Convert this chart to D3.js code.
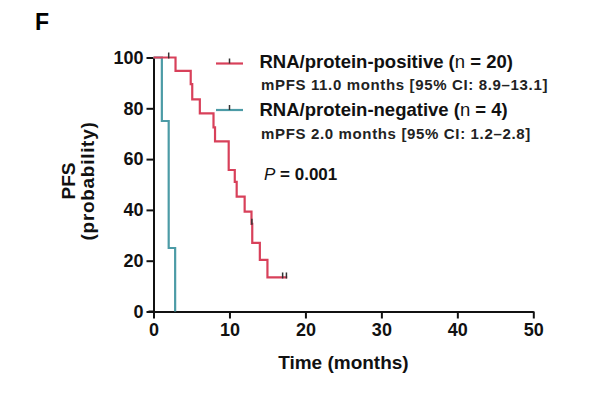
<!DOCTYPE html>
<html>
<head>
<meta charset="utf-8">
<script src="https://cdn.jsdelivr.net/npm/d3@7"></script>
<style>
  html, body { margin: 0; padding: 0; background: #fff; }
  svg { display: block; font-family: "Liberation Sans", Arial, Helvetica, sans-serif; }
</style>
</head>
<body>
<svg id="chart" width="600" height="394"></svg>
<script>
// ---- data ----
const posTimes = [0, 2.9, 4.9, 5.1, 6.1, 7.9, 8.1, 9.9, 10.7, 10.95, 12.0, 12.9, 13.0, 14.0, 15.0, 17.6];
const posSurv  = [100, 94.7, 89.5, 83.5, 78.0, 72.5, 67.0, 55.7, 51.0, 45.2, 39.3, 34.5, 27.0, 20.3, 13.4, 13.4];
const posCensor = [2.0, 12.95, 17.0, 17.5];

const negTimes = [0, 1.1, 2.0, 2.85];
const negSurv  = [100, 75, 25, 0];
const negCensor = [];

const xTicks = [0, 10, 20, 30, 40, 50];
const yTicks = [0, 20, 40, 60, 80, 100];

const seriesNames = ["RNA/protein-positive", "RNA/protein-negative"];
const seriesN = ["20", "4"];
const mpfsLabels = ["mPFS 11.0 months [95% CI: 8.9\u201313.1]", "mPFS 2.0 months [95% CI: 1.2\u20132.8]"];
const pLabel = "= 0.001";

const colors = ["#d8405a", "#4c9ba6"];

// ---- layout ----
const svg = d3.select("#chart");
const x = d3.scaleLinear().domain([0, 50]).range([153.5, 533.3]);
const y = d3.scaleLinear().domain([0, 100]).range([311.5, 57.5]);

// panel letter
svg.append("text").attr("x", 35).attr("y", 30)
  .attr("font-size", 23).attr("font-weight", "bold").text("F");

// axes
const xAxis = svg.append("g").attr("transform", `translate(0,${y(0)})`)
  .call(d3.axisBottom(x).tickValues(xTicks).tickSize(7).tickSizeOuter(0).tickPadding(5));
const yAxis = svg.append("g").attr("transform", `translate(${x(0)},0)`)
  .call(d3.axisLeft(y).tickValues(yTicks).tickSize(7).tickSizeOuter(0).tickPadding(3));
[xAxis, yAxis].forEach(a => {
  a.selectAll("path.domain").attr("stroke", "#111").attr("stroke-width", 2);
  a.selectAll(".tick line").attr("stroke", "#111").attr("stroke-width", 2);
  a.selectAll(".tick text").attr("fill", "#111").attr("font-size", 18)
    .attr("font-weight", "bold").attr("font-family", "Liberation Sans, Arial, sans-serif");
});
// small extension of the x axis left of the y axis (the "+" at origin)
svg.append("line").attr("x1", x(0) - 5).attr("x2", x(0)).attr("y1", y(0)).attr("y2", y(0))
  .attr("stroke", "#111").attr("stroke-width", 2);

// axis titles
svg.append("text").attr("x", x(25)).attr("y", 369).attr("text-anchor", "middle")
  .attr("font-size", 19).attr("font-weight", "bold").attr("fill", "#111").text("Time (months)");
const yt = svg.append("g").attr("transform", "translate(0,181) rotate(-90)");
yt.append("text").attr("x", 0).attr("y", 75).attr("text-anchor", "middle")
  .attr("font-size", 19).attr("font-weight", "bold").attr("fill", "#111").text("PFS");
yt.append("text").attr("x", 0).attr("y", 94).attr("text-anchor", "middle")
  .attr("font-size", 19).attr("font-weight", "bold").attr("letter-spacing", 0.7)
  .attr("fill", "#111").text("(probability)");

// curves
const line = d3.line().x(d => x(d[0])).y(d => y(d[1])).curve(d3.curveStepAfter);
function survAt(times, surv, t) {
  let s = surv[0];
  for (let i = 0; i < times.length; i++) if (times[i] <= t) s = surv[i];
  return s;
}
const series = [
  { times: negTimes, surv: negSurv, censor: negCensor, color: colors[1] },
  { times: posTimes, surv: posSurv, censor: posCensor, color: colors[0] }
];
series.forEach(s => {
  svg.append("path").datum(s.times.map((t, i) => [t, s.surv[i]]))
    .attr("d", line).attr("fill", "none").attr("stroke", s.color).attr("stroke-width", 2.2);
  svg.selectAll(null).data(s.censor).enter().append("line")
    .attr("x1", d => x(d)).attr("x2", d => x(d))
    .attr("y1", d => y(survAt(s.times, s.surv, d)) - 5)
    .attr("y2", d => y(survAt(s.times, s.surv, d)) + 1)
    .attr("stroke", "#333").attr("stroke-width", 1.5);
});

// legend
const legY = [63.5, 110];
const txtBase = [68.3, 116];
const mpfsBase = [89.5, 138.5];
[0, 1].forEach(i => {
  svg.append("line").attr("x1", 216).attr("x2", 243).attr("y1", legY[i]).attr("y2", legY[i])
    .attr("stroke", colors[i]).attr("stroke-width", 2.2);
  svg.append("line").attr("x1", 229.5).attr("x2", 229.5).attr("y1", legY[i] - 5).attr("y2", legY[i])
    .attr("stroke", "#333").attr("stroke-width", 1.5);
  const t = svg.append("text").attr("x", 259.5).attr("y", txtBase[i])
    .attr("font-size", 18.5).attr("font-weight", "bold").attr("fill", "#111");
  t.append("tspan").text(seriesNames[i] + " (");
  t.append("tspan").attr("font-weight", "normal").text("n");
  t.append("tspan").text(" = " + seriesN[i] + ")");
  svg.append("text").attr("x", 261).attr("y", mpfsBase[i])
    .attr("font-size", 15).attr("font-weight", "bold").attr("letter-spacing", 0.65)
    .attr("fill", "#222").text(mpfsLabels[i]);
});

// p value
const pt = svg.append("text").attr("x", 264).attr("y", 180)
  .attr("font-size", 17).attr("font-weight", "bold").attr("fill", "#111");
pt.append("tspan").attr("font-style", "italic").attr("font-weight", "normal").text("P");
pt.append("tspan").text(" " + pLabel);
</script>
</body>
</html>
